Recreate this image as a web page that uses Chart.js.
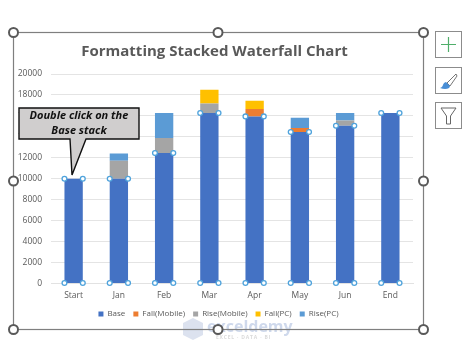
<!DOCTYPE html>
<html>
<head>
<meta charset="utf-8">
<title>Formatting Stacked Waterfall Chart</title>
<script src="https://cdn.jsdelivr.net/npm/chart.js@4"></script>
<style>
  html, body { margin: 0; padding: 0; background: #fff; }
  #wrap { position: relative; width: 474px; height: 353px; overflow: hidden; }
  #grafico { position: absolute; left: 0; top: 0; }
  #capa { position: absolute; left: 0; top: 0; }
</style>
</head>
<body>
<div id="wrap">
  <canvas id="grafico" width="474" height="353"></canvas>
  <svg id="capa" width="474" height="353" xmlns="http://www.w3.org/2000/svg">
    <!-- marca de agua -->
    <g opacity="0.5">
      <path d="M183 323 l10 -5 l10 5 v12 l-10 5 l-10 -5 z" fill="#b9c6e0"/>
      <text x="207" y="332" font-family="'Open Sans'" font-size="16" font-weight="700" fill="#9fb3d9">exceldemy</text>
      <text x="216" y="339" font-family="'Open Sans'" font-size="5" font-weight="700" fill="#b5b5b5" letter-spacing="0.8">EXCEL · DATA · BI</text>
    </g>
    <!-- marco de seleccion -->
    <rect x="13.5" y="32.5" width="410" height="297" fill="none" stroke="#7f7f7f" stroke-width="1.2"/>
    <g id="asas" fill="#fff" stroke="#595959" stroke-width="2"></g>
    <!-- globo -->
    <path d="M19 108 H139 V139 H86 L72 175 L70 139 H19 Z" fill="#d0cece" stroke="#111" stroke-width="1.4"/>
    <g font-family="'Open Sans'" font-size="11" font-weight="700" font-style="italic" fill="#111" text-anchor="middle">
      <text x="79" y="119">Double click on the</text>
      <text x="79" y="134">Base stack</text>
    </g>
    <!-- botones laterales -->
    <g fill="#fff" stroke="#8c8c8c" stroke-width="1">
      <rect x="435.5" y="31.5" width="26" height="26"/>
      <rect x="435.5" y="67.5" width="26" height="26"/>
      <rect x="435.5" y="102.5" width="26" height="26"/>
    </g>
    <path d="M448.5 37 V52 M441 44.5 H456" stroke="#4fae6a" stroke-width="1.2" fill="none"/>
    <path d="M456 74 L447 83 L450 86 L457 76 Z" fill="#fff" stroke="#666" stroke-width="0.9"/>
    <path d="M446 82 C442 83 444 87 440 88 C445 90 450 89 450 86 Z" fill="#4a8fd6"/>
    <path d="M441 108 H456 L450.5 116 V124 H446.5 V116 Z" fill="#fff" stroke="#666" stroke-width="1"/>
  </svg>
</div>
<script>
const categorias = ['Start', 'Jan', 'Feb', 'Mar', 'Apr', 'May', 'Jun', 'End'];
const base = [10000, 10000, 12450, 16270, 15950, 14460, 15060, 16270];
const fallMobile = [0, 0, 0, 0, 700, 380, 0, 0];
const riseMobile = [0, 1720, 1440, 920, 0, 0, 510, 0];
const fallPC = [0, 0, 0, 1310, 800, 0, 0, 0];
const risePC = [0, 700, 2385, 0, 0, 990, 700, 0];

const fuente = "'Open Sans', 'Noto Sans', sans-serif";
const gris = '#595959';

// Asas del marco de seleccion
const asas = [[13.5, 32.5], [218, 32.5], [423.5, 32.5], [13.5, 181], [423.5, 181], [13.5, 329.5], [218, 329.5], [423.5, 329.5]];
const grupoAsas = document.getElementById('asas');
asas.forEach(([x, y]) => {
  const c = document.createElementNS('http://www.w3.org/2000/svg', 'circle');
  c.setAttribute('cx', x); c.setAttribute('cy', y); c.setAttribute('r', 4.5);
  grupoAsas.appendChild(c);
});

// Circulitos de seleccion en las esquinas de la serie Base
const puntosBase = {
  id: 'puntosBase',
  // la leyenda del original queda un poco a la derecha del titulo
  afterLayout(chart) {
    chart.legend.left += 4;
    chart.legend.right += 4;
  },
  afterDatasetsDraw(chart) {
    const { ctx } = chart;
    ctx.save();
    chart.getDatasetMeta(0).data.forEach(bar => {
      const p = bar.getProps(['x', 'y', 'base', 'width'], true);
      const izq = p.x - p.width / 2, der = p.x + p.width / 2;
      [[izq, p.y], [der, p.y], [izq, p.base], [der, p.base]].forEach(([x, y]) => {
        ctx.beginPath();
        ctx.arc(x, y, 2.4, 0, Math.PI * 2);
        ctx.fillStyle = '#fff';
        ctx.strokeStyle = '#4fa3dc';
        ctx.lineWidth = 1.3;
        ctx.fill();
        ctx.stroke();
      });
    });
    ctx.restore();
  }
};

const serie = (label, data, color) => ({ label, data, backgroundColor: color, barPercentage: 0.405, categoryPercentage: 1 });

new Chart(document.getElementById('grafico').getContext('2d'), {
  type: 'bar',
  data: {
    labels: categorias,
    datasets: [
      serie('Base', base, '#4472C4'),
      serie('Fall(Mobile)', fallMobile, '#ED7D31'),
      serie('Rise(Mobile)', riseMobile, '#A5A5A5'),
      serie('Fall(PC)', fallPC, '#FFC000'),
      serie('Rise(PC)', risePC, '#5B9BD5')
    ]
  },
  options: {
    responsive: false,
    animation: false,
    layout: { padding: { left: 16, right: 61, top: 43, bottom: 25 } },
    plugins: {
      tooltip: { enabled: false },
      title: {
        display: true,
        text: 'Formatting Stacked Waterfall Chart',
        color: gris,
        font: { family: fuente, size: 15, weight: '700' },
        padding: { top: 0, bottom: 13 }
      },
      legend: {
        position: 'bottom',
        labels: {
          usePointStyle: true,
          pointStyle: 'rect',
          boxWidth: 5,
          boxHeight: 5,
          padding: 8,
          color: gris,
          font: { family: fuente, size: 8 }
        }
      }
    },
    scales: {
      x: {
        stacked: true,
        afterFit(scale) { scale.height -= 5.7; },
        grid: { display: false, drawTicks: false },
        border: { color: '#e2e2e2' },
        ticks: { color: gris, font: { family: fuente, size: 8.5 }, padding: 7 }
      },
      y: {
        stacked: true,
        min: 0,
        max: 20000,
        afterFit(scale) { scale.width = 35; },
        grid: { color: '#e4e4e4', drawTicks: false },
        border: { display: false },
        ticks: {
          stepSize: 2000,
          color: gris,
          font: { family: fuente, size: 8.5 },
          padding: 9,
          callback: v => String(v)
        }
      }
    }
  },
  plugins: [puntosBase]
});
</script>
</body>
</html>
